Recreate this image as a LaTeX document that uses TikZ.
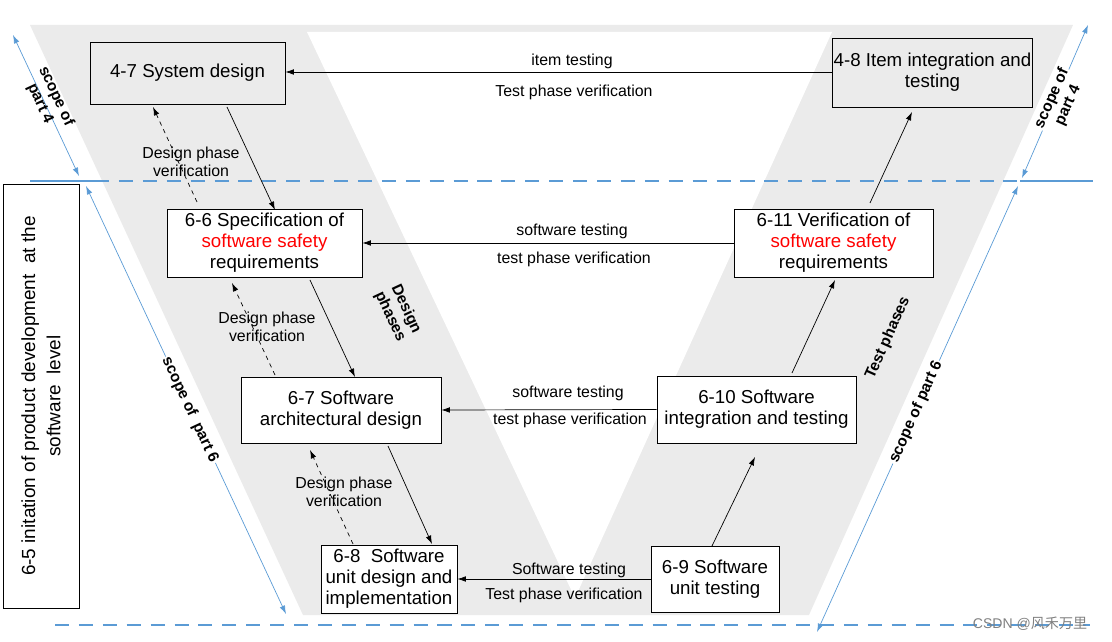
\documentclass[tikz,border=0pt]{standalone}
\usepackage{fontspec}
\setmainfont{Liberation Sans}
\newfontfamily\cjk{Noto Sans CJK SC}
\usetikzlibrary{arrows.meta}
\definecolor{band}{HTML}{EBEBEB}
\definecolor{sb}{HTML}{5B9BD5}
\begin{document}
\begin{tikzpicture}[x=0.025cm,y=-0.025cm,
 box/.style n args={2}{draw,line width=0.6pt,align=center,font=\fontsize{13.3}{15}\selectfont,inner sep=1pt,minimum width=#1*0.025cm,minimum height=#2*0.025cm},
 lab/.style={font=\fontsize{11.3}{12.5}\selectfont,align=center},
 arr/.style={-{Latex[length=6pt,width=4pt]},line width=0.5pt},
 dar/.style={arr,dashed},
 scope/.style={{Latex[length=6pt,width=4pt]}-{Latex[length=6pt,width=4pt]},sb,line width=0.5pt},
 st/.style={font=\bfseries\fontsize{11}{12.5}\selectfont,align=center,fill=white,inner sep=1pt}]
\useasboundingbox (0,0) rectangle (1112,642);
\fill[band] (30,25) -- (1073,25) -- (809,615) -- (303,615) -- cycle;
\fill[white] (307,32) -- (832,32) -- (575,598) -- cycle;
% lines
\draw[sb,line width=1.5pt] (30,181) -- (95,181);
\draw[sb,line width=1.5pt,dash pattern=on 10pt off 7pt] (95,181) -- (1020,181);
\draw[sb,line width=1.5pt] (1020,181) -- (1093,181);
\draw[sb,line width=1.5pt,dash pattern=on 10pt off 7pt] (55,625) -- (1090,625);
% boxes
\node[box={195}{62},fill=band] (s47) at (187.5,73) {4-7 System design};
\node[box={199}{69},fill=band] (s48) at (932.5,72.5) {4-8 Item integration and\\testing};
\node[box={195}{68},fill=white] (s66) at (264.5,243) {6-6 Specification of\\\textcolor{red}{software safety}\\requirements};
\node[box={199}{68},fill=white] (s611) at (833.5,243) {6-11 Verification of\\\textcolor{red}{software safety}\\requirements};
\node[box={200}{66},fill=white] (s67) at (341,410) {6-7 Software\\architectural design};
\node[box={199}{67},fill=white] (s610) at (756.5,409.5) {6-10 Software\\integration and testing};
\node[box={136}{68},fill=white] (s68) at (389,579) {6-8~~Software\\unit design and\\implementation};
\node[box={128}{66},fill=white] (s69) at (715,579) {6-9 Software\\unit testing};
\node[box={76}{424},fill=white] (s65) at (41,396) {};
\node[rotate=90,align=center,font=\fontsize{13.5}{18}\selectfont] (s65t) at (41,396) {6-5 initation of product development~ at the\\software~ level};
% horizontal arrows
\draw[arr] (s48.west |- 0,72) -- (s47.east |- 0,72);
\node[lab] (l1) at (572,61) {item testing};
\node[lab] (l2) at (574,92) {Test phase verification};
\draw[arr] (s611.west) -- (s66.east);
\node[lab] (l3) at (572,231) {software testing};
\node[lab] (l4) at (574,259) {test phase verification};
\draw[arr] (s610.west) -- (s67.east);
\node[lab] (l5) at (568,393) {software testing};
\node[lab] (l6) at (570,420) {test phase verification};
\draw[arr] (s69.west) -- (s68.east);
\node[lab] (l7) at (569,570) {Software testing};
\node[lab] (l8) at (564,595) {Test phase verification};
% diagonal arrows
\coordinate (a1) at (227,107); \coordinate (a2) at (275,210);
\draw[arr] (a1) -- (a2);
\coordinate (d1) at (197,202); \coordinate (d2) at (153,107);
\draw[dar] (d1) -- (d2);
\coordinate (a3) at (310,280); \coordinate (a4) at (355,377);
\draw[arr] (a3) -- (a4);
\coordinate (d3) at (275,375); \coordinate (d4) at (232,283);
\draw[dar] (d3) -- (d4);
\coordinate (a5) at (388,446); \coordinate (a6) at (432,544);
\draw[arr] (a5) -- (a6);
\coordinate (d5) at (353,544); \coordinate (d6) at (310,450);
\draw[dar] (d5) -- (d6);
\node[lab] (v1) at (191,162) {Design phase\\verification};
\node[lab] (v2) at (267,327) {Design phase\\verification};
\node[lab] (v3) at (344,492) {Design phase\\verification};
\coordinate (b1) at (712,546); \coordinate (b2) at (755,457);
\draw[arr] (b1) -- (b2);
\coordinate (b3) at (792,373); \coordinate (b4) at (835,280);
\draw[arr] (b3) -- (b4);
\coordinate (b5) at (870,203); \coordinate (b6) at (912,112);
\draw[arr] (b5) -- (b6);
% phase labels
\node[font=\bfseries\fontsize{11}{12.5}\selectfont,align=center,rotate=-65] (dp) at (398,313) {Design\\phases};
\node[font=\bfseries\fontsize{11}{12.5}\selectfont,rotate=66] (tp) at (888,338) {Test phases};
% scopes
\coordinate (p1) at (13,35); \coordinate (p2) at (79,176);
\draw[scope] (p1) -- (p2);
\node[st,fill=none,rotate=-65] (sl4) at (48,100) {scope of\\part 4};
\coordinate (p3) at (86,186); \coordinate (p4) at (286,614);
\draw[scope] (p3) -- (p4);
\node[st,rotate=-65] (sl6) at (190,410) {scope of~ part 6};
\coordinate (p5) at (1088,25); \coordinate (p6) at (1022,178);
\draw[scope] (p6) -- (p5);
\node[st,rotate=66] (sr4) at (1060,102) {scope of\\part 4};
\coordinate (p7) at (1018,186); \coordinate (p8) at (817,632);
\draw[scope] (p8) -- (p7);
\node[st,rotate=66] (sr6) at (916,412) {scope of part 6};
\node[font=\fontsize{10}{12}\selectfont,text=gray] (wm) at (1030,624) {CSDN @{\cjk 风禾万里}};
\end{tikzpicture}
\end{document}
